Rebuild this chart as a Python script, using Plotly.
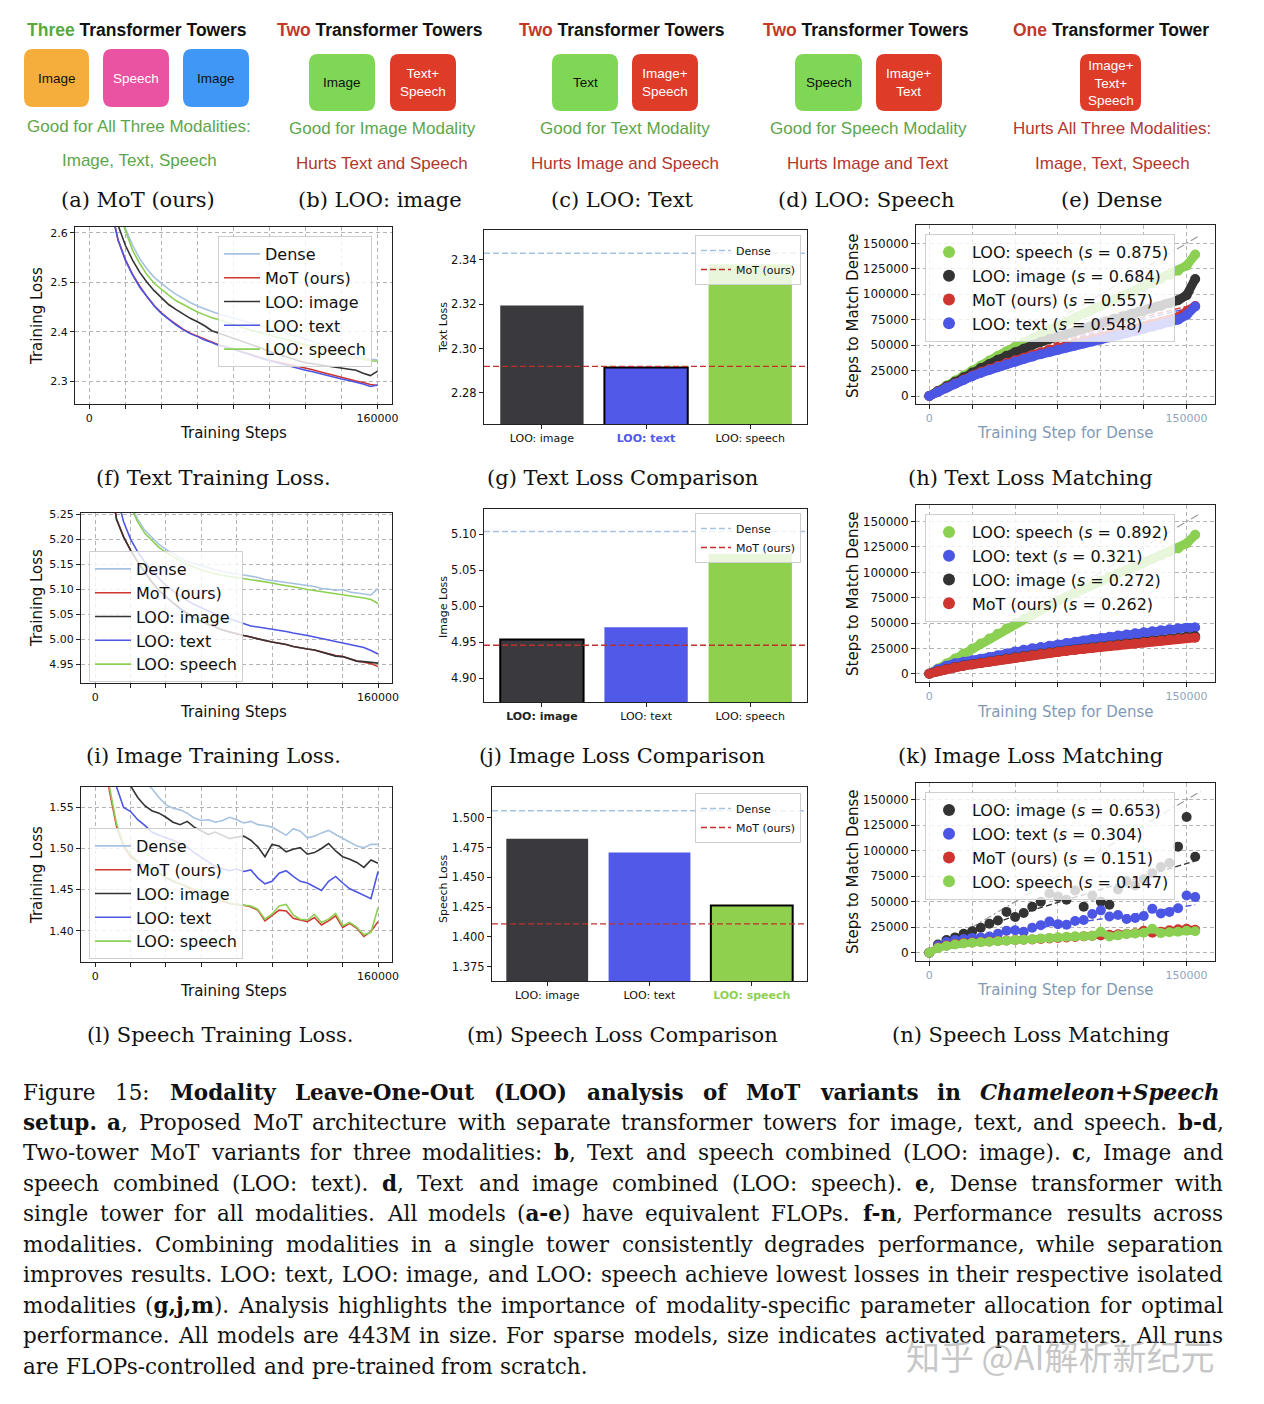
import plotly.graph_objects as go

W, H = 1264, 1404

# ---------------------------------------------------------------- data
STEPS = [0, 4000, 8000, 12000, 16000, 20000, 24000, 28000, 32000, 36000, 40000,
         44000, 48000, 52000, 56000, 60000, 64000, 68000, 72000, 76000, 80000,
         84000, 88000, 92000, 96000, 100000, 104000, 108000, 112000, 116000, 120000,
         124000, 128000, 132000, 136000, 140000, 144000, 148000, 152000, 156000, 160000]
LOSS_XTICKS = [0, 20000, 40000, 60000, 80000, 100000, 120000, 140000, 160000]
LOSS_XTICKTEXT = ["0", "", "", "", "", "", "", "", "160000"]
SERIES = ["Dense", "MoT (ours)", "LOO: image", "LOO: text", "LOO: speech"]

# (f) text training loss
TEXT_DENSE = [3.2, 2.95, 2.8, 2.71, 2.65, 2.61, 2.575, 2.548, 2.527, 2.51, 2.497, 2.486, 2.476, 2.467,
              2.459, 2.452, 2.446, 2.441, 2.436, 2.432, 2.428, 2.424, 2.42, 2.416, 2.412, 2.407, 2.403,
              2.399, 2.394, 2.39, 2.385, 2.38, 2.375, 2.37, 2.365, 2.36, 2.356, 2.352, 2.348, 2.344, 2.343]
TEXT_MOT = [3.1, 2.88, 2.74, 2.65, 2.585, 2.546, 2.516, 2.492, 2.471, 2.453, 2.438, 2.426, 2.415, 2.405,
            2.397, 2.391, 2.384, 2.378, 2.373, 2.369, 2.365, 2.361, 2.356, 2.351, 2.346, 2.342, 2.339,
            2.336, 2.333, 2.329, 2.326, 2.323, 2.319, 2.315, 2.311, 2.307, 2.304, 2.3, 2.297, 2.293, 2.291]
TEXT_LOO_IMAGE = [3.15, 2.92, 2.78, 2.68, 2.615, 2.575, 2.545, 2.52, 2.5, 2.483, 2.468, 2.455, 2.445, 2.436,
                  2.427, 2.42, 2.412, 2.402, 2.397, 2.391, 2.386, 2.381, 2.376, 2.371, 2.366, 2.36, 2.355,
                  2.35, 2.345, 2.341, 2.337, 2.335, 2.333, 2.331, 2.328, 2.326, 2.324, 2.322, 2.316, 2.311, 2.32]
TEXT_LOO_TEXT = [3.1, 2.88, 2.74, 2.65, 2.585, 2.545, 2.515, 2.49, 2.47, 2.452, 2.437, 2.425, 2.414, 2.404,
                 2.396, 2.39, 2.383, 2.378, 2.372, 2.369, 2.364, 2.36, 2.355, 2.35, 2.345, 2.341, 2.337,
                 2.334, 2.33, 2.326, 2.322, 2.319, 2.315, 2.311, 2.307, 2.304, 2.301, 2.298, 2.294, 2.289, 2.292]
TEXT_LOO_SPEECH = [3.2, 2.95, 2.8, 2.7, 2.645, 2.605, 2.565, 2.538, 2.515, 2.498, 2.485, 2.474, 2.463, 2.455,
                   2.447, 2.44, 2.434, 2.428, 2.424, 2.419, 2.414, 2.41, 2.405, 2.401, 2.397, 2.393, 2.389,
                   2.385, 2.381, 2.377, 2.373, 2.369, 2.365, 2.361, 2.357, 2.353, 2.35, 2.347, 2.344, 2.341, 2.34]
TEXT_YTICKS = [2.3, 2.4, 2.5, 2.6]

# (i) image training loss
IMG_DENSE = [5.8, 5.6, 5.45, 5.36, 5.31, 5.27, 5.24, 5.218, 5.203, 5.19, 5.18, 5.171, 5.163, 5.156,
             5.151, 5.148, 5.143, 5.139, 5.136, 5.133, 5.131, 5.129, 5.127, 5.124, 5.12, 5.118, 5.116,
             5.114, 5.112, 5.11, 5.108, 5.106, 5.102, 5.101, 5.098, 5.1, 5.095, 5.093, 5.091, 5.089, 5.102]
IMG_MOT = [5.7, 5.5, 5.33, 5.24, 5.205, 5.178, 5.155, 5.135, 5.115, 5.098, 5.085, 5.073, 5.062, 5.052,
           5.043, 5.036, 5.03, 5.024, 5.019, 5.015, 5.011, 5.008, 5.005, 5.001, 4.998, 4.995, 4.993,
           4.99, 4.986, 4.983, 4.981, 4.979, 4.975, 4.972, 4.968, 4.966, 4.962, 4.957, 4.955, 4.952, 4.946]
IMG_LOO_IMAGE = [5.7, 5.5, 5.33, 5.24, 5.205, 5.178, 5.155, 5.135, 5.115, 5.098, 5.085, 5.073, 5.062, 5.052,
                 5.043, 5.036, 5.03, 5.024, 5.019, 5.015, 5.011, 5.008, 5.005, 5.001, 4.998, 4.995, 4.993,
                 4.99, 4.986, 4.983, 4.981, 4.979, 4.975, 4.972, 4.967, 4.966, 4.962, 4.957, 4.956, 4.954, 4.953]
IMG_LOO_TEXT = [5.75, 5.55, 5.4, 5.29, 5.235, 5.2, 5.175, 5.155, 5.137, 5.122, 5.108, 5.097, 5.087, 5.078,
                5.07, 5.063, 5.057, 5.051, 5.046, 5.041, 5.036, 5.031, 5.027, 5.025, 5.023, 5.021, 5.018,
                5.016, 5.013, 5.011, 5.008, 5.005, 5.002, 4.999, 4.996, 4.994, 4.991, 4.987, 4.984, 4.978, 4.971]
IMG_LOO_SPEECH = [5.8, 5.6, 5.45, 5.36, 5.305, 5.265, 5.235, 5.212, 5.197, 5.184, 5.174, 5.165, 5.157, 5.15,
                  5.144, 5.139, 5.135, 5.131, 5.128, 5.126, 5.124, 5.122, 5.12, 5.118, 5.115, 5.113, 5.11,
                  5.108, 5.106, 5.103, 5.1, 5.098, 5.096, 5.093, 5.092, 5.09, 5.087, 5.085, 5.083, 5.08, 5.072]
IMG_YTICKS = [4.95, 5.00, 5.05, 5.10, 5.15, 5.20, 5.25]

# (l) speech training loss
SPC_DENSE = [1.75, 1.70, 1.66, 1.63, 1.61, 1.595, 1.588, 1.58, 1.573, 1.562, 1.553, 1.549, 1.547, 1.543,
             1.537, 1.534, 1.535, 1.532, 1.534, 1.538, 1.535, 1.531, 1.533, 1.529, 1.528, 1.526, 1.521,
             1.516, 1.524, 1.521, 1.513, 1.515, 1.519, 1.522, 1.517, 1.512, 1.508, 1.503, 1.501, 1.505, 1.505]
SPC_MOT = [1.70, 1.63, 1.57, 1.527, 1.503, 1.49, 1.484, 1.478, 1.474, 1.47, 1.465, 1.46, 1.457, 1.453,
           1.449, 1.446, 1.443, 1.44, 1.436, 1.433, 1.432, 1.431, 1.429, 1.425, 1.412, 1.418, 1.425,
           1.424, 1.415, 1.413, 1.411, 1.416, 1.407, 1.412, 1.418, 1.404, 1.409, 1.403, 1.393, 1.399, 1.411]
SPC_LOO_IMAGE = [1.75, 1.70, 1.65, 1.61, 1.585, 1.576, 1.562, 1.552, 1.546, 1.543, 1.538, 1.532, 1.529, 1.533,
                 1.526, 1.521, 1.517, 1.52, 1.516, 1.512, 1.514, 1.515, 1.51, 1.502, 1.49, 1.505, 1.503,
                 1.496, 1.499, 1.501, 1.493, 1.495, 1.5, 1.506, 1.497, 1.49, 1.487, 1.483, 1.477, 1.486, 1.482]
SPC_LOO_TEXT = [1.72, 1.66, 1.61, 1.575, 1.55, 1.545, 1.535, 1.528, 1.52, 1.516, 1.513, 1.51, 1.506, 1.502,
                1.495, 1.489, 1.484, 1.478, 1.475, 1.473, 1.475, 1.472, 1.474, 1.464, 1.457, 1.46, 1.47,
                1.473, 1.466, 1.46, 1.458, 1.454, 1.449, 1.46, 1.466, 1.458, 1.451, 1.447, 1.443, 1.439, 1.472]
SPC_LOO_SPEECH = [1.70, 1.63, 1.575, 1.53, 1.505, 1.492, 1.485, 1.479, 1.475, 1.47, 1.466, 1.461, 1.457, 1.454,
                  1.45, 1.447, 1.443, 1.44, 1.437, 1.434, 1.432, 1.431, 1.43, 1.426, 1.414, 1.42, 1.43,
                  1.432, 1.419, 1.414, 1.413, 1.42, 1.41, 1.414, 1.421, 1.406, 1.41, 1.404, 1.395, 1.398, 1.428]
SPC_YTICKS = [1.40, 1.45, 1.50, 1.55]

# bar panels
BAR_CATS = ["LOO: image", "LOO: text", "LOO: speech"]
TEXT_BARS = [2.3195, 2.2915, 2.338]
TEXT_REF = {"Dense": 2.343, "MoT (ours)": 2.292}
TEXT_BAR_YTICKS = [2.28, 2.30, 2.32, 2.34]
IMG_BARS = [4.954, 4.971, 5.073]
IMG_REF = {"Dense": 5.104, "MoT (ours)": 4.946}
IMG_BAR_YTICKS = [4.90, 4.95, 5.00, 5.05, 5.10]
SPC_BARS = [1.4825, 1.471, 1.4265]
SPC_REF = {"Dense": 1.506, "MoT (ours)": 1.411}
SPC_BAR_YTICKS = [1.375, 1.400, 1.425, 1.450, 1.475, 1.500]

# matching panels
STEPS_M = [0, 5000, 10000, 15000, 20000, 25000, 30000, 35000, 40000, 45000, 50000, 55000, 60000, 65000,
           70000, 75000, 80000, 85000, 90000, 95000, 100000, 105000, 110000, 115000, 120000, 125000,
           130000, 135000, 140000, 145000, 150000, 155000]
MATCH_TICKS = [0, 25000, 50000, 75000, 100000, 125000, 150000]
IDENTITY = [0, 158000]
FIT_X = [0, 25000, 50000, 100000, 155000]

H_SPEECH = [0, 5200, 10300, 15200, 20100, 25000, 30000, 34800, 39500, 44000, 48500, 53000, 57000, 61000,
            65000, 69000, 73000, 77000, 81000, 85000, 88500, 92000, 96000, 99500, 103000, 107000, 111000,
            115000, 119000, 123000, 128000, 139000]
H_IMAGE = [0, 4800, 9500, 14000, 18500, 23000, 27500, 31500, 35500, 39500, 43000, 46500, 50000, 53000,
           56000, 58500, 61000, 63500, 66000, 68500, 71000, 73500, 76000, 78500, 81000, 83500, 86000,
           88500, 91000, 94000, 99000, 115000]
H_MOT = [0, 4300, 8400, 12300, 16200, 19900, 23300, 26500, 29500, 32300, 35000, 37600, 40200, 42700,
         45200, 47500, 49700, 51800, 53900, 56000, 58000, 60000, 62000, 64000, 66000, 68200, 70400,
         72700, 75000, 77500, 83000, 88500]
H_TEXT = [0, 4200, 8200, 12000, 15800, 19400, 22600, 25600, 28500, 31200, 33800, 36300, 38700, 41000,
          43300, 45500, 47600, 49600, 51600, 53600, 55600, 57600, 59600, 61600, 63700, 65800, 68000,
          70300, 72600, 75000, 79500, 88000]
H_FIT_SPEECH = [0, 24000, 47000, 90000, 134000]
H_FIT_IMAGE = [0, 23000, 44000, 76000, 102000]
H_FIT_MOT = [0, 20000, 38000, 66000, 90000]
H_FIT_TEXT = [0, 19500, 37000, 64000, 88000]
H_NAMES = ["LOO: speech (<i>s</i> = 0.875)", "LOO: image (<i>s</i> = 0.684)",
           "MoT (ours) (<i>s</i> = 0.557)", "LOO: text (<i>s</i> = 0.548)"]

K_SPEECH = [0, 5000, 10000, 15000, 20000, 24800, 29800, 34600, 39500, 44500, 49500, 54000, 58500, 63000,
            67500, 72000, 76000, 80000, 84000, 88000, 92000, 95500, 99000, 102500, 106000, 109500,
            113000, 116500, 120000, 123500, 128500, 137000]
K_TEXT = [0, 4500, 7800, 10200, 11800, 13200, 14800, 16400, 18200, 20000, 22000, 23500, 25000, 26300,
          27600, 28900, 30200, 31500, 32800, 34100, 35300, 36500, 37600, 38700, 39800, 40800, 41800,
          42800, 43800, 44700, 45200, 45500]
K_IMAGE = [0, 2500, 4700, 6600, 8000, 9300, 10700, 12100, 13500, 14900, 16300, 17500, 18700, 19800,
           20800, 21800, 22800, 23800, 24800, 25800, 26800, 27800, 28800, 29700, 30600, 31500, 32400,
           33300, 34200, 35100, 36500, 37000]
K_MOT = [0, 2400, 4500, 6300, 7700, 9000, 10400, 11800, 13200, 14500, 15800, 17000, 18200, 19300,
         20300, 21300, 22300, 23300, 24300, 25300, 26300, 27200, 28100, 29000, 29900, 30800, 31700,
         32600, 33500, 34300, 35000, 35500]
K_FIT_SPEECH = [0, 25000, 49000, 92000, 135000]
K_FIT_TEXT = [0, 15000, 25000, 37500, 50000]
K_FIT_IMAGE = [0, 10000, 17500, 28500, 39000]
K_FIT_MOT = [0, 9800, 17000, 28000, 38000]
K_NAMES = ["LOO: speech (<i>s</i> = 0.892)", "LOO: text (<i>s</i> = 0.321)",
           "LOO: image (<i>s</i> = 0.272)", "MoT (ours) (<i>s</i> = 0.262)"]

N_IMAGE = [0, 8000, 12500, 15000, 18500, 21000, 24500, 28500, 31500, 40000, 35000, 39000, 45000, 50000,
           58000, 55000, 52000, 61000, 45000, 56000, 50000, 47000, 62000, 70000, 66000, 72000, 78000,
           84000, 88000, 104000, 133000, 94000]
N_TEXT = [0, 7000, 10500, 12500, 13500, 14500, 15000, 15800, 18500, 21500, 22000, 20500, 24500, 27000,
          30500, 28000, 27500, 31000, 32000, 38000, 41500, 35500, 37000, 33000, 34000, 36000, 43000,
          38500, 40000, 43500, 56000, 54500]
N_MOT = [0, 5000, 7000, 8500, 9500, 10000, 10500, 11000, 11500, 12000, 12500, 12800, 13000, 13500,
         14000, 14500, 15000, 15500, 16000, 16500, 17000, 17500, 18000, 18500, 19000, 21500, 19500,
         20500, 22000, 23000, 23500, 22500]
N_SPEECH = [0, 4500, 6500, 8000, 9000, 9800, 10300, 10800, 11200, 11800, 12400, 12800, 13300, 14000,
            14500, 15200, 15700, 16000, 16200, 16500, 20500, 15800, 17000, 18300, 18800, 19600, 23500,
            19200, 20000, 20500, 21500, 21000]
N_FIT_IMAGE = [0, 20000, 36000, 62000, 90000]
N_FIT_TEXT = [0, 13000, 21000, 33000, 47000]
N_FIT_MOT = [0, 9000, 12800, 17500, 22500]
N_FIT_SPEECH = [0, 8800, 12500, 17000, 22000]
N_NAMES = ["LOO: image (<i>s</i> = 0.653)", "LOO: text (<i>s</i> = 0.304)",
           "MoT (ours) (<i>s</i> = 0.151)", "LOO: speech (<i>s</i> = 0.147)"]

# ---------------------------------------------------------------- styles
C_DENSE = "#a6c2e0"
C_MOT = "#cf3530"
C_IMG = "#333333"
C_TXT = "#4c56e4"
C_SPC = "#8cd053"
BAR_COLORS = ["#3a393e", "#5159e8", "#8fd14f"]
SANS = "DejaVu Sans"
SERIF = "DejaVu Serif"
HELV = "Liberation Sans"
G_TXT = "#5ca64a"
R_TXT = "#b3372c"


def X(px):
    return px / W


def Y(py):
    return 1 - py / H


FRAMES = {
    1: (75, 227, 392, 404), 2: (484, 230, 807, 424), 3: (916, 225, 1215, 404),
    4: (81, 513, 392, 683), 5: (484, 509, 807, 702), 6: (916, 505, 1215, 682),
    7: (81, 787, 392, 962), 8: (492, 787, 807, 981), 9: (916, 783, 1215, 961),
}
XR = {1: [-7950, 168000], 2: [-0.556, 2.545], 3: [-7770, 166550],
      4: [-8100, 167900], 5: [-0.556, 2.545], 6: [-7770, 166550],
      7: [-8100, 167900], 8: [-0.54, 2.54], 9: [-7770, 166550]}
YR = {1: [2.2535, 2.612], 2: [2.266, 2.3535], 3: [-7860, 168000],
      4: [4.9133, 5.2526], 5: [4.8672, 5.1353], 6: [-8200, 166400],
      7: [1.3619, 1.5748], 8: [1.363, 1.526], 9: [-8150, 166400]}

fig = go.Figure()
layout = dict(width=W, height=H, margin=dict(l=0, r=0, t=0, b=0), autosize=False,
              template="none", paper_bgcolor="white", plot_bgcolor="white",
              font=dict(family=SANS, color="#111"), hovermode=False)


def ax_ids(n):
    return ("x" if n == 1 else f"x{n}", "y" if n == 1 else f"y{n}")


def leg_id(n):
    return "legend" if n == 1 else f"legend{n}"


def base_axis():
    return dict(showline=True, linecolor="#222", linewidth=1, mirror=True, ticks="outside",
                ticklen=4, tickwidth=1, tickcolor="#222", zeroline=False, fixedrange=True,
                showgrid=False)


for n, (l, t, r, b) in FRAMES.items():
    xa, ya = ax_ids(n)
    xk = "xaxis" if n == 1 else f"xaxis{n}"
    yk = "yaxis" if n == 1 else f"yaxis{n}"
    xd = base_axis()
    yd = base_axis()
    xd.update(domain=[X(l), X(r)], range=XR[n], anchor=ya)
    yd.update(domain=[Y(b), Y(t)], range=YR[n], anchor=xa)
    layout[xk] = xd
    layout[yk] = yd

# ------------------------------------------------ training-loss panels
GRID = dict(showgrid=True, gridcolor="#b4b4b4", griddash="4px,3px", gridwidth=0.8)
loss_panels = [
    (1, [TEXT_DENSE, TEXT_MOT, TEXT_LOO_IMAGE, TEXT_LOO_TEXT, TEXT_LOO_SPEECH], TEXT_YTICKS, "{:.1f}",
     (218, 236)),
    (4, [IMG_DENSE, IMG_MOT, IMG_LOO_IMAGE, IMG_LOO_TEXT, IMG_LOO_SPEECH], IMG_YTICKS, "{:.2f}", (89, 551)),
    (7, [SPC_DENSE, SPC_MOT, SPC_LOO_IMAGE, SPC_LOO_TEXT, SPC_LOO_SPEECH], SPC_YTICKS, "{:.2f}", (89, 828)),
]
LINE_COLORS = [C_DENSE, C_MOT, C_IMG, C_TXT, C_SPC]
for n, series, yt, fmt, (lx, ly) in loss_panels:
    xa, ya = ax_ids(n)
    for name, vals, col in zip(SERIES, series, LINE_COLORS):
        fig.add_trace(go.Scatter(x=STEPS, y=vals, mode="lines", name=name, xaxis=xa, yaxis=ya,
                                 line=dict(color=col, width=1.6), legend=leg_id(n)))
    xk = "xaxis" if n == 1 else f"xaxis{n}"
    yk = "yaxis" if n == 1 else f"yaxis{n}"
    layout[xk].update(GRID, tickvals=LOSS_XTICKS, ticktext=LOSS_XTICKTEXT, tickfont=dict(size=11))
    layout[yk].update(GRID, tickvals=yt, ticktext=[fmt.format(v) for v in yt], tickfont=dict(size=11))
    layout[leg_id(n)] = dict(x=X(lx), y=Y(ly), xanchor="left", yanchor="top",
                             bgcolor="rgba(255,255,255,0.8)", bordercolor="#cfcfcf", borderwidth=1,
                             font=dict(size=16, family=SANS, color="#111"), itemwidth=36,
                             tracegroupgap=0)

# ------------------------------------------------ bar panels
bar_panels = [
    (2, TEXT_BARS, TEXT_REF, TEXT_BAR_YTICKS, "{:.2f}", 1, (801, 235)),
    (5, IMG_BARS, IMG_REF, IMG_BAR_YTICKS, "{:.2f}", 0, (801, 513)),
    (8, SPC_BARS, SPC_REF, SPC_BAR_YTICKS, "{:.3f}", 2, (801, 793)),
]
for n, vals, refs, yt, fmt, best, (lx, ly) in bar_panels:
    xa, ya = ax_ids(n)
    widths = [2 if i == best else 0 for i in range(3)]
    fig.add_trace(go.Bar(x=[0, 1, 2], y=vals, width=0.8, xaxis=xa, yaxis=ya, showlegend=False,
                         marker=dict(color=BAR_COLORS, line=dict(color="black", width=widths))))
    for name, col in [("Dense", C_DENSE), ("MoT (ours)", "#c0302a")]:
        fig.add_trace(go.Scatter(x=XR[n], y=[refs[name], refs[name]], mode="lines", name=name,
                                 xaxis=xa, yaxis=ya, legend=leg_id(n),
                                 line=dict(color=col, width=1.4, dash="6px,3px")))
    ticktext = []
    for i, c in enumerate(BAR_CATS):
        if i == best:
            col = ["#222222", BAR_COLORS[1], BAR_COLORS[2]][i]
            ticktext.append(f'<b><span style="color:{col}">{c}</span></b>')
        else:
            ticktext.append(c)
    xk = f"xaxis{n}"
    yk = f"yaxis{n}"
    layout[xk].update(tickvals=[0, 1, 2], ticktext=ticktext, tickfont=dict(size=11))
    layout[yk].update(tickvals=yt, ticktext=[fmt.format(v) for v in yt], tickfont=dict(size=11.5))
    layout[leg_id(n)] = dict(x=X(lx), y=Y(ly), xanchor="right", yanchor="top",
                             bgcolor="rgba(255,255,255,0.8)", bordercolor="#cfcfcf", borderwidth=1,
                             font=dict(size=11, family=SANS, color="#111"), itemwidth=30,
                             tracegroupgap=0)

# ------------------------------------------------ matching panels
match_panels = [
    (3, [H_SPEECH, H_IMAGE, H_MOT, H_TEXT], [H_FIT_SPEECH, H_FIT_IMAGE, H_FIT_MOT, H_FIT_TEXT],
     [C_SPC, C_IMG, C_MOT, C_TXT], H_NAMES, (925, 234), [9, 9, 9, 9]),
    (6, [K_SPEECH, K_TEXT, K_IMAGE, K_MOT], [K_FIT_SPEECH, K_FIT_TEXT, K_FIT_IMAGE, K_FIT_MOT],
     [C_SPC, C_TXT, C_IMG, C_MOT], K_NAMES, (925, 514), [9, 9, 9, 9]),
    (9, [N_IMAGE, N_TEXT, N_MOT, N_SPEECH], [N_FIT_IMAGE, N_FIT_TEXT, N_FIT_MOT, N_FIT_SPEECH],
     [C_IMG, C_TXT, C_MOT, C_SPC], N_NAMES, (925, 792), [0, 0, 7, 7]),
]
for n, ys, fits, cols, names, (lx, ly), bands in match_panels:
    xa, ya = ax_ids(n)
    fig.add_trace(go.Scatter(x=IDENTITY, y=IDENTITY, mode="lines", showlegend=False, xaxis=xa, yaxis=ya,
                             line=dict(color="#9a9a9a", width=1.2, dash="8px,3px,2px,3px")))
    for fy, col in zip(fits, cols):
        fig.add_trace(go.Scatter(x=FIT_X, y=fy, mode="lines", showlegend=False, xaxis=xa, yaxis=ya,
                                 line=dict(color=col, width=1.4, dash="6px,3px", shape="spline")))
    for vals, col, name, bw in zip(ys, cols, names, bands):
        if bw:
            fig.add_trace(go.Scatter(x=STEPS_M, y=vals, mode="lines", showlegend=False, xaxis=xa,
                                     yaxis=ya, line=dict(color=col, width=bw)))
        fig.add_trace(go.Scatter(x=STEPS_M, y=vals, mode="markers", name=name, xaxis=xa, yaxis=ya,
                                 legend=leg_id(n), marker=dict(color=col, size=10, line=dict(width=0))))
    xk = f"xaxis{n}"
    yk = f"yaxis{n}"
    layout[xk].update(GRID, tickvals=MATCH_TICKS,
                      ticktext=[str(v) if v in (0, 150000) else "" for v in MATCH_TICKS],
                      tickfont=dict(size=11, color="#8fa5bd"))
    layout[yk].update(GRID, tickvals=MATCH_TICKS, ticktext=[str(v) for v in MATCH_TICKS],
                      tickfont=dict(size=12))
    layout[leg_id(n)] = dict(x=X(lx), y=Y(ly), xanchor="left", yanchor="top",
                             bgcolor="rgba(255,255,255,0.8)", bordercolor="#cfcfcf", borderwidth=1,
                             font=dict(size=16, family=SANS, color="#111"), itemwidth=36,
                             itemsizing="constant", tracegroupgap=0)

# ------------------------------------------------ annotations & shapes
ann = []
shapes = []


def text(x, y, s, size, family=SANS, color="#111", angle=0, xanchor="center"):
    ann.append(dict(x=X(x), y=Y(y), xref="paper", yref="paper", text=s, showarrow=False,
                    font=dict(size=size, family=family, color=color), textangle=angle,
                    xanchor=xanchor, yanchor="middle", borderpad=0))


def rr_path(l, t, r, b, rad=9):
    def P(x, y):
        return f"{X(x):.5f},{Y(y):.5f}"
    return (f"M {P(l + rad, t)} L {P(r - rad, t)} Q {P(r, t)} {P(r, t + rad)} L {P(r, b - rad)} "
            f"Q {P(r, b)} {P(r - rad, b)} L {P(l + rad, b)} Q {P(l, b)} {P(l, b - rad)} "
            f"L {P(l, t + rad)} Q {P(l, t)} {P(l + rad, t)} Z")


# tower schematic
TITLES = [(137, "#58a83f", "Three", "Transformer Towers"), (380, "#c0392b", "Two", "Transformer Towers"),
          (622, "#c0392b", "Two", "Transformer Towers"), (866, "#c0392b", "Two", "Transformer Towers"),
          (1111, "#c0392b", "One", "Transformer Tower")]
for cx, col, w1, rest in TITLES:
    text(cx, 30, f'<b><span style="color:{col}">{w1}</span> {rest}</b>', 17.5, HELV, "#111")

BOXES = [
    ((24, 49, 89, 107), "#f5ae3c", "Image", "#111"),
    ((103, 49, 169, 107), "#ea52a2", "Speech", "#fff"),
    ((183, 49, 249, 107), "#4197f5", "Image", "#111"),
    ((309, 54, 375, 111), "#80d755", "Image", "#111"),
    ((390, 54, 456, 111), "#de3b28", "Text+<br>Speech", "#fff"),
    ((552, 54, 618, 111), "#80d755", "Text", "#111"),
    ((632, 54, 698, 111), "#de3b28", "Image+<br>Speech", "#fff"),
    ((795, 54, 862, 111), "#80d755", "Speech", "#111"),
    ((876, 54, 942, 111), "#de3b28", "Image+<br>Text", "#fff"),
    ((1080, 54, 1141, 111), "#de3b28", "Image+<br>Text+<br>Speech", "#fff"),
]
for (l, t, r, b), fill, label, tc in BOXES:
    shapes.append(dict(type="path", path=rr_path(l, t, r, b), xref="paper", yref="paper",
                       fillcolor=fill, line=dict(width=0), layer="below"))
    text((l + r) / 2, (t + b) / 2, label, 13.5, HELV, tc)

DESCR = [(139, 126, 161, "Good for All Three Modalities:", G_TXT, "Image, Text, Speech", G_TXT),
         (382, 128, 163, "Good for Image Modality", G_TXT, "Hurts Text and Speech", R_TXT),
         (625, 128, 163, "Good for Text Modality", G_TXT, "Hurts Image and Speech", R_TXT),
         (868, 128, 163, "Good for Speech Modality", G_TXT, "Hurts Image and Text", R_TXT),
         (1112, 128, 163, "Hurts All Three Modalities:", R_TXT, "Image, Text, Speech", R_TXT)]
for cx, y1, y2, s1, c1, s2, c2 in DESCR:
    text(cx, y1, s1, 17, HELV, c1)
    text(cx, y2, s2, 17, HELV, c2)

for cx, s in [(138, "(a) MoT (ours)"), (380, "(b) LOO: image"), (622, "(c) LOO: Text"),
              (866, "(d) LOO: Speech"), (1111, "(e) Dense")]:
    text(cx, 200, s, 21, SERIF, "#111")

for cx, cy, s in [(214, 478, "(f) Text Training Loss."), (622, 478, "(g) Text Loss Comparison"),
                  (1030, 478, "(h) Text Loss Matching"),
                  (214, 756, "(i) Image Training Loss."), (622, 756, "(j) Image Loss Comparison"),
                  (1030, 756, "(k) Image Loss Matching"),
                  (220, 1035, "(l) Speech Training Loss."), (622, 1035, "(m) Speech Loss Comparison"),
                  (1030, 1035, "(n) Speech Loss Matching")]:
    text(cx, cy, s, 21, SERIF, "#111")

# axis titles
for ty, ly in [(433, 316), (712, 598), (991, 875)]:
    text(234, ty, "Training Steps", 15)
    text(37, ly, "Training Loss", 15, angle=-90)
for s, ly in [("Text Loss", 328), ("Image Loss", 607), ("Speech Loss", 889)]:
    text(443, ly, s, 11, angle=-90)
for ty, ly in [(433, 316), (712, 594), (990, 872)]:
    text(1065, ty, "Training Step for Dense", 15, color="#7f9ab6")
    text(853, ly, "Steps to Match Dense", 15, angle=-90)

# ------------------------------------------------ figure caption (justified word by word)
CAPTION = [
    "Figure 15: <b>Modality Leave-One-Out (LOO) analysis of MoT variants in <i>Chameleon+Speech</i></b>",
    "<b>setup.</b> <b>a</b>, Proposed MoT architecture with separate transformer towers for image, text, and speech. <b>b-d</b>,",
    "Two-tower MoT variants for three modalities: <b>b</b>, Text and speech combined (LOO: image). <b>c</b>, Image and",
    "speech combined (LOO: text). <b>d</b>, Text and image combined (LOO: speech). <b>e</b>, Dense transformer with",
    "single tower for all modalities. All models (<b>a-e</b>) have equivalent FLOPs. <b>f-n</b>, Performance results across",
    "modalities. Combining modalities in a single tower consistently degrades performance, while separation",
    "improves results. LOO: text, LOO: image, and LOO: speech achieve lowest losses in their respective isolated",
    "modalities (<b>g,j,m</b>). Analysis highlights the importance of modality-specific parameter allocation for optimal",
    "performance. All models are 443M in size. For sparse models, size indicates activated parameters. All runs",
    "are FLOPs-controlled and pre-trained from scratch.",
]
CAP_Y = [1092, 1122, 1152, 1183, 1213, 1244, 1274, 1305, 1335, 1366]
CAP_SIZE = 21.5
CAP_LEFT, CAP_RIGHT = 22, 1222

CW = {}
for ch, w in zip("abcdefghijklmnopqrstuvwxyz",
                 [.596, .640, .560, .640, .592, .370, .640, .644, .320, .310, .605, .320, .948, .644,
                  .602, .640, .640, .478, .513, .402, .644, .565, .856, .564, .565, .525]):
    CW[ch] = w
for ch, w in zip("ABCDEFGHIJKLMNOPQRSTUVWXYZ",
                 [.722, .735, .765, .802, .730, .694, .799, .872, .395, .401, .747, .664, .995, .837,
                  .820, .732, .820, .770, .720, .682, .812, .722, 1.028, .722, .667, .725]):
    CW[ch] = w
for ch in "0123456789":
    CW[ch] = .636
CW.update({".": .318, ",": .318, ":": .337, ";": .337, "(": .390, ")": .390, "-": .338, "+": .838})


def parse_words(line):
    words, cur = [], []
    bold = ital = False
    i = 0
    while i < len(line):
        for tag, val in (("<b>", "b1"), ("</b>", "b0"), ("<i>", "i1"), ("</i>", "i0")):
            if line.startswith(tag, i):
                if val == "b1":
                    bold = True
                elif val == "b0":
                    bold = False
                elif val == "i1":
                    ital = True
                else:
                    ital = False
                i += len(tag)
                break
        else:
            c = line[i]
            if c == " ":
                if cur:
                    words.append(cur)
                    cur = []
            else:
                cur.append((c, bold, ital))
            i += 1
    if cur:
        words.append(cur)
    return words


def word_html(w):
    out, run, style = [], "", None
    for c, b, it in w + [(None, None, None)]:
        st = (b, it)
        if c is None or st != style:
            if run:
                s = run
                if style[1]:
                    s = f"<i>{s}</i>"
                if style[0]:
                    s = f"<b>{s}</b>"
                out.append(s)
            run, style = (c or ""), st
        else:
            run += c
    return "".join(out)


def word_width(w, size):
    return sum(CW.get(c, .6) * (1.1 if b else 1.0) for c, b, it in w) * size


for li, (line, cy) in enumerate(zip(CAPTION, CAP_Y)):
    words = parse_words(line)
    widths = [word_width(w, CAP_SIZE) for w in words]
    if li < len(CAPTION) - 1 and len(words) > 1:
        gap = (CAP_RIGHT - CAP_LEFT - sum(widths)) / (len(words) - 1)
        gap = max(gap, 0.2 * CAP_SIZE)
    else:
        gap = 0.318 * CAP_SIZE
    x = CAP_LEFT
    for w, wd in zip(words, widths):
        text(x, cy, word_html(w), CAP_SIZE, SERIF, "#111", xanchor="left")
        x += wd + gap

# watermark
text(1060, 1355, "知乎 @AI解析新纪元", 34, "Noto Sans CJK SC", "rgba(150,150,150,0.55)")

layout["annotations"] = ann
layout["shapes"] = shapes
fig.update_layout(**layout)

fig.write_html("out.html", config={"displayModeBar": False},
               post_script="document.body.style.margin='0';document.body.style.overflow='hidden';")
